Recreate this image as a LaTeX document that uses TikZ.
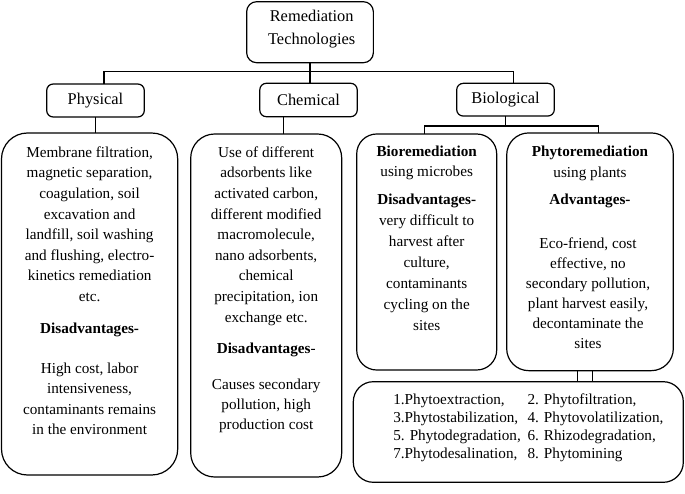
\documentclass[tikz,border=0pt]{standalone}
\usepackage{fontspec}
\setmainfont{Liberation Serif}
\newcommand\myBody{\fontsize{15.2}{20.6}\selectfont}
\newcommand\myHead{\fontsize{16.4}{22.3}\selectfont}
\newcommand\myList{\fontsize{15.2}{18}\selectfont}
\begin{document}
\begin{tikzpicture}[x=1pt,y=-1pt,line width=1.2pt,
  frame/.style={draw,rounded corners=#1,inner sep=0pt,outer sep=0pt},
  txt/.style={inner sep=0pt,outer sep=0pt,align=center,font=\myBody},
  head/.style={font=\myHead}]
\useasboundingbox (0,0) rectangle (685,494);
% boxes
\node[frame=10pt,minimum width=126.7pt,minimum height=61pt] (root) at (310,32.2) {};
\node[frame=6.5pt,minimum width=97.6pt,minimum height=33pt,head] (phys) at (95.5,100.5) {Physical};
\node[frame=6.5pt,minimum width=97.4pt,minimum height=33.4pt,head] (chem) at (308.5,100) {Chemical};
\node[frame=6.5pt,minimum width=97.6pt,minimum height=32.7pt,head] (bio) at (505.5,99.7) {Biological};
\node[frame=26pt,minimum width=176.2pt,minimum height=342pt] (physc) at (89.6,304) {};
\node[frame=24pt,minimum width=151pt,minimum height=343pt] (chemc) at (266.2,305.5) {};
\node[frame=20pt,minimum width=140pt,minimum height=236pt] (bior) at (426.7,252) {};
\node[frame=22pt,minimum width=166.6pt,minimum height=237.7pt] (phyto) at (590,251.8) {};
\node[frame=20pt,minimum width=330pt,minimum height=100.6pt] (list) at (518.3,432) {};
% texts
\node[txt,head,anchor=north] (roott) at (311.7,10.5) {Remediation\\[0pt]Technologies};
\node[txt,anchor=north] (p1) at (89.6,146.5) {Membrane filtration,\\ magnetic separation,\\ coagulation, soil\\ excavation and\\ landfill, soil washing\\ and flushing, electro-\\ kinetics remediation\\ etc.};
\node[txt,anchor=base] (p2) at (89.6,333.8) {\textbf{Disadvantages-}};
\node[txt,anchor=north] (p3) at (89.6,362.5) {High cost, labor\\ intensiveness,\\ contaminants remains\\ in the environment};
\node[txt,anchor=north] (c1) at (266.2,146.5) {Use of different\\ adsorbents like\\ activated carbon,\\ different modified\\ macromolecule,\\ nano adsorbents,\\ chemical\\ precipitation, ion\\ exchange etc.};
\node[txt,anchor=base] (c2) at (266.2,353.8) {\textbf{Disadvantages}-};
\node[txt,anchor=north,font=\fontsize{15.2}{20}\selectfont] (c3) at (266.2,378.5) {Causes secondary\\ pollution, high\\ production cost};
\node[txt,anchor=north,font=\fontsize{15.2}{20}\selectfont] (b1) at (426.7,145.9) {\textbf{Bioremediation}\\ using microbes};
\node[txt,anchor=north,font=\fontsize{15.2}{21}\selectfont] (b2) at (426.7,194.2) {\textbf{Disadvantages-}\\ very difficult to\\ harvest after\\ culture,\\ contaminants\\ cycling on the\\ sites};
\node[txt,anchor=north,font=\fontsize{15.2}{21}\selectfont] (f1) at (590,145.9) {\textbf{Phytoremediation}\\ using plants};
\node[txt,anchor=base] (f2) at (590,204.5) {\textbf{Advantages-}};
\node[txt,anchor=north,font=\fontsize{15.2}{20}\selectfont] (f3) at (588,237.5) {Eco-friend, cost\\ effective, no\\ secondary pollution,\\ plant harvest easily,\\ decontaminate the\\ sites};
\node[txt,anchor=north west,align=left,font=\myList] (l1) at (393.3,394.2) {1.Phytoextraction,\\ 3.Phytostabilization,\\ 5. Phytodegradation,\\ 7.Phytodesalination,};
\node[txt,anchor=north west,align=left,font=\myList] (l2) at (527.5,394.2) {2. Phytofiltration,\\ 4. Phytovolatilization,\\ 6. Rhizodegradation,\\ 8. Phytomining};
% connectors
\coordinate (busL) at (104,71.7);
\coordinate (busR) at (513.3,71.7);
\draw (busL |- phys.north) -- (busL) -- (busR) -- (busR |- bio.north);
\draw (root.south) -- (root.south |- chem.north);
\draw (phys.south) -- (phys.south |- physc.north);
\draw ([xshift=-25pt]chem.south) -- ([xshift=-25pt]chem.south |- chemc.north);
\coordinate (bbL) at (424.3,126);
\coordinate (bbR) at (598.3,126);
\draw (bio.south) -- (bio.south |- bbL);
\draw (bbL |- bior.north) -- (bbL) -- (bbR) -- (bbR |- phyto.north);
\draw ([xshift=-12.7pt]phyto.south) -- ([xshift=-12.7pt]phyto.south |- list.north);
\draw ([xshift=2.7pt]phyto.south) -- ([xshift=2.7pt]phyto.south |- list.north);
\end{tikzpicture}
\end{document}
